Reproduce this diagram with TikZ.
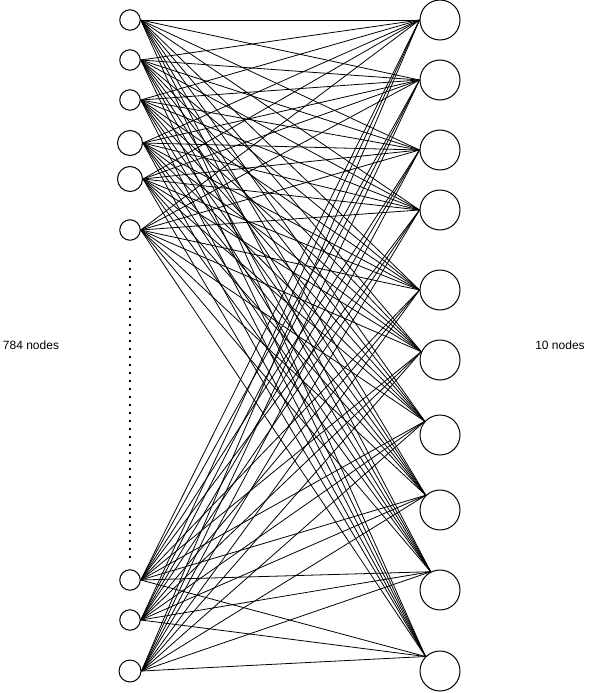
\documentclass[tikz,border=0pt]{standalone}
\usepackage{fontspec}
\setmainfont{Liberation Sans}

\begin{document}
\begin{tikzpicture}[x=1pt,y=-1pt]
	\useasboundingbox (0,0) rectangle (590,693);
	\fontsize{12}{14}\selectfont

	% input layer
	\foreach \n/\y/\d in {1/20/20.5,2/60/20.5,3/100/20.5,4/143/25,5/179/25,6/230/20.5,7/580/20.5,8/620/20.5,9/671/22}
		\node[draw, circle, inner sep=0pt, line width=1pt, minimum size=\d pt] (in\n) at (130,\y) {};
	\draw[line width=1.6pt, dash pattern=on 1.6pt off 6.4pt] (130,260.2) -- (130,560);

	% output layer
	\foreach \n/\y in {1/20,2/80,3/150,4/210,5/290,6/360,7/435,8/510,9/590,10/671}
		\node[draw, circle, inner sep=0pt, line width=1pt, minimum size=40pt] (out\n) at (440,\y) {};

	\foreach \i in {1,...,9}
		\foreach \j/\a in {1/180,2/180,3/180,4/180,5/180,6/156,7/138,8/134,9/117,10/135}
			\draw[line width=0.8pt] (in\i.east) -- (out\j.\a);

	\node (inlabel) at (31,345) {784 nodes};
	\node (outlabel) at (560,345) {10 nodes};
\end{tikzpicture}
\end{document}
